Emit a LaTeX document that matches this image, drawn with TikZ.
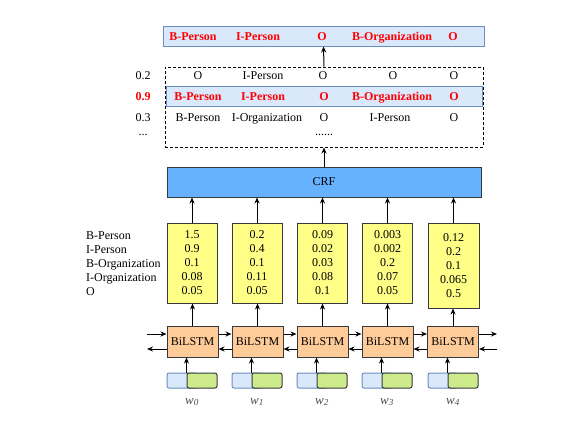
\documentclass[tikz,border=0pt]{standalone}
\usepackage{fontspec}
\setmainfont{Liberation Serif}
\usepackage{tikz}
\usetikzlibrary{arrows.meta}

\definecolor{pathfill}{HTML}{DAE8FC}
\definecolor{pathdraw}{HTML}{6C8EBF}
\definecolor{crffill}{HTML}{66B2FF}
\definecolor{boxdraw}{HTML}{36393D}
\definecolor{emitfill}{HTML}{FFFF88}
\definecolor{lstmfill}{HTML}{FFCC99}
\definecolor{wordfill}{HTML}{CDEB8B}
\definecolor{wordtext}{HTML}{4D4D4D}

\begin{document}
\begin{tikzpicture}
 [ x=1pt, y=-1pt
 , every node/.style={font=\fontsize{12pt}{14pt}\selectfont, inner sep=0pt}
 , tag/.style={text height=8pt, text depth=0pt}
 , best tag/.style={tag, text=red, font=\fontsize{12pt}{14pt}\selectfont\bfseries}
 , best path/.style={draw=pathdraw, fill=pathfill, line width=1pt, minimum height=20pt}
 , candidates/.style={draw, line width=1pt, dash pattern=on 3pt off 2pt, minimum width=318pt, minimum height=80pt}
 , box/.style={draw=boxdraw, line width=1pt}
 , crf layer/.style={box, fill=crffill, minimum width=314pt, minimum height=30pt}
 , emission/.style={box, fill=emitfill, align=center, minimum width=50pt, minimum height=80pt}
 , bilstm/.style={box, fill=lstmfill, minimum width=51pt, minimum height=31pt}
 , char emb/.style={draw=pathdraw, fill=pathfill, line width=1pt, rounded corners=2pt, minimum width=30pt, minimum height=15pt}
 , word emb/.style={box, fill=wordfill, rounded corners=2pt, minimum width=30pt, minimum height=15pt}
 , word/.style={tag, text=wordtext, font=\fontsize{13pt}{15pt}\selectfont\itshape}
 , arrow/.style={line width=1pt, -{Stealth[length=6pt, width=5pt]}}
 ]
  \useasboundingbox (0,0) rectangle (576,426);

  % decoded tag sequence
  \node [best path, minimum width=321pt] (best) at (323.5,36) {};
  \node [best tag] (best-1) at (193,36) {B-Person};
  \node [best tag] (best-2) at (258,36) {I-Person};
  \node [best tag] (best-3) at (322,36) {O};
  \node [best tag] (best-4) at (392,36) {B-Organization};
  \node [best tag] (best-5) at (453,36) {O};

  % candidate paths with their scores
  \node [candidates] (paths) at (324,107) {};
  \node [best path, minimum width=316pt] (chosen) at (324,96) {};
  \node [tag] (score-1) at (143,75) {0.2};
  \node [best tag] (score-2) at (143,96) {0.9};
  \node [tag] (score-3) at (143,117) {0.3};
  \node [tag] (score-4) at (143,131) {...};
  \node [tag] (path1-1) at (198,75) {O};
  \node [tag] (path1-2) at (263,75) {I-Person};
  \node [tag] (path1-3) at (323,75) {O};
  \node [tag] (path1-4) at (393,75) {O};
  \node [tag] (path1-5) at (454,75) {O};
  \node [best tag] (path2-1) at (198,96) {B-Person};
  \node [best tag] (path2-2) at (263,96) {I-Person};
  \node [best tag] (path2-3) at (324,96) {O};
  \node [best tag] (path2-4) at (392,96) {B-Organization};
  \node [best tag] (path2-5) at (454,96) {O};
  \node [tag] (path3-1) at (198,117) {B-Person};
  \node [tag] (path3-2) at (267,117) {I-Organization};
  \node [tag] (path3-3) at (324,117) {O};
  \node [tag] (path3-4) at (390,117) {I-Person};
  \node [tag] (path3-5) at (454,117) {O};
  \node [tag] (path4-3) at (324,131) {......};

  \node [crf layer] (crf) at (324,182) {CRF};

  % emission scores per tag
  \node [anchor=west, align=left] (tags) at (86,264)
    {B-Person\\I-Person\\B-Organization\\I-Organization\\O};
  \node [emission] (emit0) at (192,263) {1.5\\0.9\\0.1\\0.08\\0.05};
  \node [emission] (emit1) at (257,263) {0.2\\0.4\\0.1\\0.11\\0.05};
  \node [emission] (emit2) at (322.5,263) {0.09\\0.02\\0.03\\0.08\\0.1};
  \node [emission] (emit3) at (387.5,263) {0.003\\0.002\\0.2\\0.07\\0.05};
  \node [emission, minimum width=51pt, minimum height=85pt] (emit4) at (453.5,265.5) {0.12\\0.2\\0.1\\0.065\\0.5};

  % encoder
  \node [bilstm] (lstm0) at (192.5,341.5) {BiLSTM};
  \node [bilstm] (lstm1) at (257.5,341.5) {BiLSTM};
  \node [bilstm] (lstm2) at (322.5,341.5) {BiLSTM};
  \node [bilstm] (lstm3) at (387.5,341.5) {BiLSTM};
  \node [bilstm] (lstm4) at (453,341.5) {BiLSTM};

  % char + word embeddings
  \node [char emb] (char0) at (182,380.5) {};
  \node [word emb] (word0) at (202,380.5) {};
  \node [char emb] (char1) at (247,380.5) {};
  \node [word emb] (word1) at (267,380.5) {};
  \node [char emb] (char2) at (312,380.5) {};
  \node [word emb] (word2) at (332,380.5) {};
  \node [char emb] (char3) at (377,380.5) {};
  \node [word emb] (word3) at (397,380.5) {};
  \node [char emb] (char4) at (443,380.5) {};
  \node [word emb] (word4) at (463,380.5) {};
  \node [word] (w0) at (192,400) {w\textsubscript{0}};
  \node [word] (w1) at (257,400) {w\textsubscript{1}};
  \node [word] (w2) at (322,400) {w\textsubscript{2}};
  \node [word] (w3) at (387,400) {w\textsubscript{3}};
  \node [word] (w4) at (453,400) {w\textsubscript{4}};

  \coordinate (fw in) at (147,334);
  \coordinate (bw out) at (147,349);
  \coordinate (fw out) at (497,334);
  \coordinate (bw in) at (497,349);

  \draw [arrow] (paths.north) -- (best.south);
  \draw [arrow] (crf.north) -- (paths.south);

  \draw [arrow] (emit0.north) -- (emit0.north |- crf.south);
  \draw [arrow] (emit1.north) -- (emit1.north |- crf.south);
  \draw [arrow] (emit2.north) -- (emit2.north |- crf.south);
  \draw [arrow] (emit3.north) -- (emit3.north |- crf.south);
  \draw [arrow] (emit4.north) -- (emit4.north |- crf.south);

  \draw [arrow] (lstm0.north) -- (lstm0.north |- emit0.south);
  \draw [arrow] (lstm1.north) -- (lstm1.north |- emit1.south);
  \draw [arrow] (lstm2.north) -- (lstm2.north |- emit2.south);
  \draw [arrow] (lstm3.north) -- (lstm3.north |- emit3.south);
  \draw [arrow] (lstm4.north) -- (lstm4.north |- emit4.south);

  \draw [arrow] (word0.north west) -- (word0.north west |- lstm0.south);
  \draw [arrow] (word1.north west) -- (word1.north west |- lstm1.south);
  \draw [arrow] (word2.north west) -- (word2.north west |- lstm2.south);
  \draw [arrow] (word3.north west) -- (word3.north west |- lstm3.south);
  \draw [arrow] (word4.north west) -- (word4.north west |- lstm4.south);

  % forward and backward states
  \draw [arrow] (fw in) -- (fw in -| lstm0.west);
  \draw [arrow] ([yshift=7.5pt]lstm0.east) -- ([yshift=7.5pt]lstm1.west);
  \draw [arrow] ([yshift=7.5pt]lstm1.east) -- ([yshift=7.5pt]lstm2.west);
  \draw [arrow] ([yshift=7.5pt]lstm2.east) -- ([yshift=7.5pt]lstm3.west);
  \draw [arrow] ([yshift=7.5pt]lstm3.east) -- ([yshift=7.5pt]lstm4.west);
  \draw [arrow] (fw out -| lstm4.east) -- (fw out);
  \draw [arrow] (bw in) -- (bw in -| lstm4.east);
  \draw [arrow] ([yshift=-7.5pt]lstm4.west) -- ([yshift=-7.5pt]lstm3.east);
  \draw [arrow] ([yshift=-7.5pt]lstm3.west) -- ([yshift=-7.5pt]lstm2.east);
  \draw [arrow] ([yshift=-7.5pt]lstm2.west) -- ([yshift=-7.5pt]lstm1.east);
  \draw [arrow] ([yshift=-7.5pt]lstm1.west) -- ([yshift=-7.5pt]lstm0.east);
  \draw [arrow] (bw out -| lstm0.west) -- (bw out);
\end{tikzpicture}
\end{document}
